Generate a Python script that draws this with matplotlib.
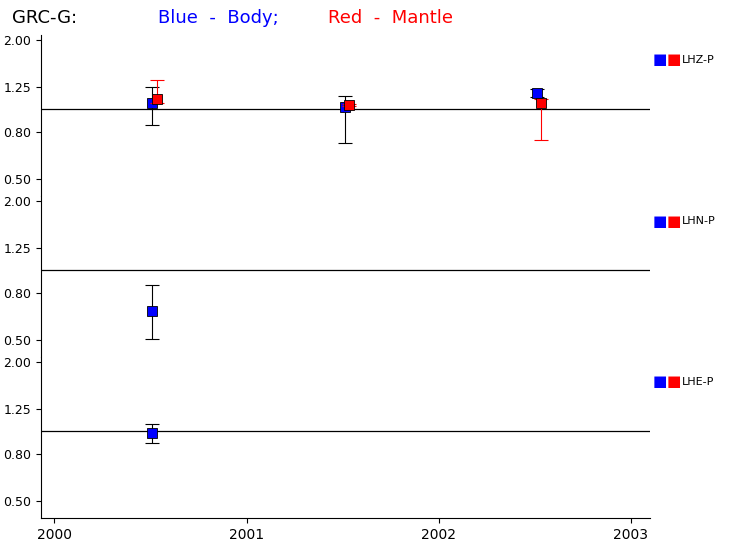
import matplotlib
matplotlib.use("Agg")
import matplotlib.pyplot as plt
import numpy as np

panels = ["LHZ-P", "LHN-P", "LHE-P"]
body_x = [[2000.51, 2001.51, 2002.51], [2000.51], [2000.51]]
body_y = [[1.07, 1.025, 1.18], [0.668], [0.985]]
body_lo = [[0.857, 0.716, 1.13], [0.505], [0.892]]
body_hi = [[1.25, 1.14, 1.22], [0.866], [1.078]]
mant_x = [[2000.535, 2001.535, 2002.535], [], []]
mant_y = [[1.11, 1.045, 1.07], [], []]
mant_lo = [[1.07, 1.03, 0.74], [], []]
mant_hi = [[1.34, 1.06, 1.11], [], []]
yticks = [0.5, 0.8, 1.25, 2.0]
ytlabels = ["0.50", "0.80", "1.25", "2.00"]
xticks = [2000, 2001, 2002, 2003]

W, H = 733, 551
fig = plt.figure(figsize=(W/100, H/100), dpi=100)
tops = [35, 196, 357]
ph = 161
for i, name in enumerate(panels):
    ax = fig.add_axes([41/W, 1-(tops[i]+ph)/H, 609/W, ph/H])
    ax.set_yscale("log")
    ax.set_ylim(0.422, 2.10)
    ax.set_xlim(1999.93, 2003.1)
    ax.axhline(1.0, color="black", lw=0.9)
    for xs, ys, lo, hi, c, ec in [(body_x[i], body_y[i], body_lo[i], body_hi[i], "blue", "black"),
                                   (mant_x[i], mant_y[i], mant_lo[i], mant_hi[i], "red", "red")]:
        if not xs:
            continue
        ys = np.array(ys); lo = np.array(lo); hi = np.array(hi)
        ax.errorbar(xs, ys, yerr=[ys-lo, hi-ys], fmt="none", ecolor=ec, elinewidth=0.8, capsize=5, capthick=0.8)
        ax.plot(xs, ys, "s", ms=7, mfc=c, mec="black", mew=0.6, ls="none")
    ax.set_yticks(yticks)
    ax.set_yticklabels(ytlabels, fontsize=9)
    ax.yaxis.set_minor_locator(matplotlib.ticker.NullLocator())
    for s in ["top", "right"]:
        ax.spines[s].set_visible(False)
    if i < 2:
        ax.spines["bottom"].set_visible(False)
        ax.set_xticks([])
    else:
        ax.set_xticks(xticks)
        ax.set_xticklabels([str(x) for x in xticks], fontsize=10)
    yl = 1 - (tops[i] + 25)/H
    fig.text(660/W, yl, "■", color="blue", fontsize=11, ha="center", va="center")
    fig.text(674/W, yl, "■", color="red", fontsize=11, ha="center", va="center")
    fig.text(682/W, yl, name, fontsize=8, va="center")

fig.text(12/W, 1-18/H, "GRC-G:", fontsize=13, va="center")
fig.text(158/W, 1-18/H, "Blue  -  Body;", fontsize=13, color="blue", va="center")
fig.text(328/W, 1-18/H, "Red  -  Mantle", fontsize=13, color="red", va="center")
fig.savefig("out.png", dpi=100)
